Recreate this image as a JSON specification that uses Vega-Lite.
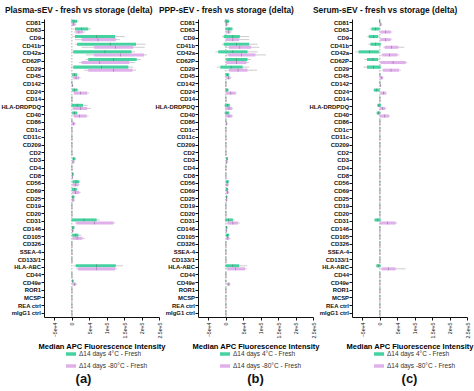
{
  "$schema": "https://vega.github.io/schema/vega-lite/v6.json",
  "padding": {"left": 0, "top": 6, "right": 2, "bottom": 0},
  "config": {
    "font": "Liberation Sans",
    "view": {"stroke": null},
    "title": {"font": "Liberation Sans", "fontSize": 8.4, "fontWeight": "bold", "color": "#111", "offset": 4, "anchor": "start", "dx": 4},
    "axis": {"domainColor": "#111", "tickColor": "#111", "labelColor": "#111", "grid": false},
    "axisY": {"labelFont": "Liberation Sans", "labelFontSize": 5.9, "labelFontWeight": "bold", "tickSize": 3, "labelPadding": 0.5, "title": null},
    "axisX": {"labelOverlap": false, "labelFlush": false, "labelBound": false, "labelAngle": 270, "labelFontSize": 5.2, "tickSize": 3, "labelPadding": 2, "titleFontSize": 7.5, "titleFontWeight": "bold", "titlePadding": 4},
    "legend": {"labelFont": "Liberation Sans", "labelFontSize": 6.5, "labelColor": "#333"}
  },
  "spacing": 1,
  "resolve": {"legend": {"color": "independent"}},
  "datasets": {
    "a": [
      {"m":"CD81","c":"4°C","lo":-3000,"q1":-1000,"md":6000,"q3":15000,"hi":19000},
      {"m":"CD81","c":"-80°C","lo":-1000,"q1":0,"md":4000,"q3":10000,"hi":13000},
      {"m":"CD63","c":"4°C","lo":4000,"q1":9000,"md":28000,"q3":47000,"hi":55000},
      {"m":"CD63","c":"-80°C","lo":6000,"q1":11000,"md":20000,"q3":32000,"hi":38000},
      {"m":"CD9","c":"4°C","lo":2000,"q1":9000,"md":70000,"q3":124000,"hi":152000},
      {"m":"CD9","c":"-80°C","lo":9000,"q1":28000,"md":75000,"q3":126000,"hi":138000},
      {"m":"CD41b","c":"4°C","lo":9000,"q1":15000,"md":110000,"q3":184000,"hi":212000},
      {"m":"CD41b","c":"-80°C","lo":28000,"q1":64000,"md":125000,"q3":176000,"hi":209000},
      {"m":"CD42a","c":"4°C","lo":-1000,"q1":4000,"md":95000,"q3":171000,"hi":181000},
      {"m":"CD42a","c":"-80°C","lo":40000,"q1":63000,"md":140000,"q3":207000,"hi":215000},
      {"m":"CD62P","c":"4°C","lo":40000,"q1":47000,"md":120000,"q3":186000,"hi":198000},
      {"m":"CD62P","c":"-80°C","lo":20000,"q1":28000,"md":80000,"q3":165000,"hi":182000},
      {"m":"CD29","c":"4°C","lo":-3000,"q1":4000,"md":85000,"q3":162000,"hi":176000},
      {"m":"CD29","c":"-80°C","lo":35000,"q1":47000,"md":120000,"q3":174000,"hi":184000},
      {"m":"CD45","c":"4°C","lo":-1000,"q1":1000,"md":8000,"q3":15000,"hi":18000},
      {"m":"CD45","c":"-80°C","lo":1000,"q1":4000,"md":12000,"q3":21000,"hi":25000},
      {"m":"CD142","c":"4°C","lo":-1500,"q1":-400,"md":200,"q3":800,"hi":1800},
      {"m":"CD142","c":"-80°C","lo":-1000,"q1":0,"md":1500,"q3":3000,"hi":4500},
      {"m":"CD24","c":"4°C","lo":-1000,"q1":1000,"md":8000,"q3":16000,"hi":20000},
      {"m":"CD24","c":"-80°C","lo":4000,"q1":6000,"md":25000,"q3":44000,"hi":50000},
      {"m":"CD14","c":"4°C","lo":-1500,"q1":-400,"md":200,"q3":800,"hi":1800},
      {"m":"CD14","c":"-80°C","lo":-1200,"q1":-300,"md":300,"q3":1000,"hi":2000},
      {"m":"HLA-DRDPDQ","c":"4°C","lo":-3000,"q1":-1000,"md":15000,"q3":32000,"hi":45000},
      {"m":"HLA-DRDPDQ","c":"-80°C","lo":1000,"q1":4000,"md":25000,"q3":44000,"hi":55000},
      {"m":"CD40","c":"4°C","lo":-1000,"q1":1000,"md":7000,"q3":15000,"hi":18000},
      {"m":"CD40","c":"-80°C","lo":3000,"q1":6000,"md":22000,"q3":42000,"hi":48000},
      {"m":"CD86","c":"4°C","lo":-1500,"q1":-400,"md":200,"q3":800,"hi":1800},
      {"m":"CD86","c":"-80°C","lo":-1000,"q1":0,"md":4000,"q3":9000,"hi":11000},
      {"m":"CD1c","c":"4°C","lo":-1500,"q1":-400,"md":200,"q3":800,"hi":1800},
      {"m":"CD1c","c":"-80°C","lo":-1200,"q1":-300,"md":300,"q3":1000,"hi":2000},
      {"m":"CD11c","c":"4°C","lo":-1500,"q1":-400,"md":200,"q3":800,"hi":1800},
      {"m":"CD11c","c":"-80°C","lo":-1200,"q1":-300,"md":300,"q3":1000,"hi":2000},
      {"m":"CD209","c":"4°C","lo":-1500,"q1":-400,"md":200,"q3":800,"hi":1800},
      {"m":"CD209","c":"-80°C","lo":-1200,"q1":-300,"md":300,"q3":1000,"hi":2000},
      {"m":"CD2","c":"4°C","lo":-1500,"q1":-400,"md":200,"q3":800,"hi":1800},
      {"m":"CD2","c":"-80°C","lo":-1200,"q1":-300,"md":300,"q3":1000,"hi":2000},
      {"m":"CD3","c":"4°C","lo":0,"q1":2000,"md":5000,"q3":10000,"hi":12000},
      {"m":"CD3","c":"-80°C","lo":-500,"q1":1000,"md":3000,"q3":7000,"hi":9000},
      {"m":"CD4","c":"4°C","lo":-1500,"q1":-400,"md":200,"q3":800,"hi":1800},
      {"m":"CD4","c":"-80°C","lo":-1200,"q1":-300,"md":300,"q3":1000,"hi":2000},
      {"m":"CD8","c":"4°C","lo":-500,"q1":0,"md":2000,"q3":5000,"hi":6000},
      {"m":"CD8","c":"-80°C","lo":-500,"q1":0,"md":1500,"q3":3000,"hi":4000},
      {"m":"CD56","c":"4°C","lo":0,"q1":2000,"md":12000,"q3":21000,"hi":24000},
      {"m":"CD56","c":"-80°C","lo":0,"q1":2000,"md":10000,"q3":19000,"hi":22000},
      {"m":"CD69","c":"4°C","lo":-1000,"q1":0,"md":7000,"q3":14000,"hi":17000},
      {"m":"CD69","c":"-80°C","lo":0,"q1":2000,"md":11000,"q3":21000,"hi":25000},
      {"m":"CD25","c":"4°C","lo":-500,"q1":0,"md":3000,"q3":7000,"hi":9000},
      {"m":"CD25","c":"-80°C","lo":-500,"q1":0,"md":3000,"q3":7000,"hi":9000},
      {"m":"CD19","c":"4°C","lo":-1500,"q1":-400,"md":200,"q3":800,"hi":1800},
      {"m":"CD19","c":"-80°C","lo":-1200,"q1":-300,"md":300,"q3":1000,"hi":2000},
      {"m":"CD20","c":"4°C","lo":-1500,"q1":-400,"md":200,"q3":800,"hi":1800},
      {"m":"CD20","c":"-80°C","lo":-1200,"q1":-300,"md":300,"q3":1000,"hi":2000},
      {"m":"CD31","c":"4°C","lo":-3000,"q1":-1000,"md":35000,"q3":71000,"hi":80000},
      {"m":"CD31","c":"-80°C","lo":9000,"q1":13000,"md":65000,"q3":119000,"hi":124000},
      {"m":"CD146","c":"4°C","lo":-500,"q1":0,"md":3000,"q3":7000,"hi":8000},
      {"m":"CD146","c":"-80°C","lo":-500,"q1":0,"md":2000,"q3":5000,"hi":6000},
      {"m":"CD105","c":"4°C","lo":-1000,"q1":1000,"md":10000,"q3":19000,"hi":27000},
      {"m":"CD105","c":"-80°C","lo":0,"q1":2000,"md":15000,"q3":30000,"hi":37000},
      {"m":"CD326","c":"4°C","lo":-1500,"q1":-400,"md":200,"q3":800,"hi":1800},
      {"m":"CD326","c":"-80°C","lo":-1200,"q1":-300,"md":300,"q3":1000,"hi":2000},
      {"m":"SSEA-4","c":"4°C","lo":-1500,"q1":-400,"md":200,"q3":800,"hi":1800},
      {"m":"SSEA-4","c":"-80°C","lo":-1200,"q1":-300,"md":300,"q3":1000,"hi":2000},
      {"m":"CD133/1","c":"4°C","lo":-1500,"q1":-400,"md":200,"q3":800,"hi":1800},
      {"m":"CD133/1","c":"-80°C","lo":-1200,"q1":-300,"md":300,"q3":1000,"hi":2000},
      {"m":"HLA-ABC","c":"4°C","lo":5000,"q1":11000,"md":71000,"q3":126000,"hi":147000},
      {"m":"HLA-ABC","c":"-80°C","lo":12000,"q1":18000,"md":70000,"q3":124000,"hi":130000},
      {"m":"CD44","c":"4°C","lo":-1500,"q1":-400,"md":200,"q3":800,"hi":1800},
      {"m":"CD44","c":"-80°C","lo":-1200,"q1":-300,"md":300,"q3":1000,"hi":2000},
      {"m":"CD49e","c":"4°C","lo":-500,"q1":0,"md":2000,"q3":5000,"hi":6000},
      {"m":"CD49e","c":"-80°C","lo":0,"q1":2000,"md":7000,"q3":12000,"hi":15000},
      {"m":"ROR1","c":"4°C","lo":-1500,"q1":-400,"md":200,"q3":800,"hi":1800},
      {"m":"ROR1","c":"-80°C","lo":-1200,"q1":-300,"md":300,"q3":1000,"hi":2000},
      {"m":"MCSP","c":"4°C","lo":-1500,"q1":-400,"md":200,"q3":800,"hi":1800},
      {"m":"MCSP","c":"-80°C","lo":-1200,"q1":-300,"md":300,"q3":1000,"hi":2000},
      {"m":"REA ctrl","c":"4°C","lo":-1500,"q1":-400,"md":200,"q3":800,"hi":1800},
      {"m":"REA ctrl","c":"-80°C","lo":-1200,"q1":-300,"md":300,"q3":1000,"hi":2000},
      {"m":"mIgG1 ctrl","c":"4°C","lo":-1500,"q1":-400,"md":200,"q3":800,"hi":1800},
      {"m":"mIgG1 ctrl","c":"-80°C","lo":-1200,"q1":-300,"md":300,"q3":1000,"hi":2000}
    ],
    "b": [
      {"m":"CD81","c":"4°C","lo":-5000,"q1":-3000,"md":3000,"q3":9000,"hi":12000},
      {"m":"CD81","c":"-80°C","lo":-2000,"q1":-1000,"md":2000,"q3":5000,"hi":7000},
      {"m":"CD63","c":"4°C","lo":-3000,"q1":-1000,"md":9000,"q3":18500,"hi":22000},
      {"m":"CD63","c":"-80°C","lo":-1000,"q1":1000,"md":7000,"q3":13000,"hi":16000},
      {"m":"CD9","c":"4°C","lo":-11000,"q1":-6000,"md":20000,"q3":40000,"hi":67000},
      {"m":"CD9","c":"-80°C","lo":-2000,"q1":1000,"md":20000,"q3":38000,"hi":67000},
      {"m":"CD41b","c":"4°C","lo":-11000,"q1":-6000,"md":30000,"q3":67000,"hi":91000},
      {"m":"CD41b","c":"-80°C","lo":-1000,"q1":9000,"md":40000,"q3":72000,"hi":96000},
      {"m":"CD42a","c":"4°C","lo":-30000,"q1":-22000,"md":20000,"q3":62000,"hi":91000},
      {"m":"CD42a","c":"-80°C","lo":0,"q1":7000,"md":45000,"q3":85000,"hi":115000},
      {"m":"CD62P","c":"4°C","lo":-2000,"q1":1000,"md":30000,"q3":62000,"hi":72000},
      {"m":"CD62P","c":"-80°C","lo":-2000,"q1":1000,"md":30000,"q3":59000,"hi":66000},
      {"m":"CD29","c":"4°C","lo":-25000,"q1":-16000,"md":15000,"q3":48000,"hi":67000},
      {"m":"CD29","c":"-80°C","lo":4000,"q1":9000,"md":35000,"q3":62000,"hi":89000},
      {"m":"CD45","c":"4°C","lo":-3000,"q1":-1000,"md":4000,"q3":9000,"hi":11000},
      {"m":"CD45","c":"-80°C","lo":-1000,"q1":1000,"md":7000,"q3":13000,"hi":16000},
      {"m":"CD142","c":"4°C","lo":-1500,"q1":-400,"md":200,"q3":800,"hi":1800},
      {"m":"CD142","c":"-80°C","lo":-1200,"q1":-300,"md":300,"q3":1000,"hi":2000},
      {"m":"CD24","c":"4°C","lo":-3000,"q1":-1000,"md":3000,"q3":7000,"hi":9000},
      {"m":"CD24","c":"-80°C","lo":-1000,"q1":1000,"md":14000,"q3":28000,"hi":31000},
      {"m":"CD14","c":"4°C","lo":-1500,"q1":-400,"md":200,"q3":800,"hi":1800},
      {"m":"CD14","c":"-80°C","lo":-1200,"q1":-300,"md":300,"q3":1000,"hi":2000},
      {"m":"HLA-DRDPDQ","c":"4°C","lo":-4000,"q1":-3000,"md":5000,"q3":11000,"hi":14000},
      {"m":"HLA-DRDPDQ","c":"-80°C","lo":-2000,"q1":-1000,"md":9000,"q3":18000,"hi":21000},
      {"m":"CD40","c":"4°C","lo":-4000,"q1":-3000,"md":3000,"q3":9000,"hi":12000},
      {"m":"CD40","c":"-80°C","lo":-2000,"q1":-1000,"md":9000,"q3":18000,"hi":21000},
      {"m":"CD86","c":"4°C","lo":-1500,"q1":-400,"md":200,"q3":800,"hi":1800},
      {"m":"CD86","c":"-80°C","lo":-500,"q1":0,"md":1500,"q3":4000,"hi":5000},
      {"m":"CD1c","c":"4°C","lo":-1500,"q1":-400,"md":200,"q3":800,"hi":1800},
      {"m":"CD1c","c":"-80°C","lo":-1200,"q1":-300,"md":300,"q3":1000,"hi":2000},
      {"m":"CD11c","c":"4°C","lo":-1500,"q1":-400,"md":200,"q3":800,"hi":1800},
      {"m":"CD11c","c":"-80°C","lo":-1200,"q1":-300,"md":300,"q3":1000,"hi":2000},
      {"m":"CD209","c":"4°C","lo":-1500,"q1":-400,"md":200,"q3":800,"hi":1800},
      {"m":"CD209","c":"-80°C","lo":-1200,"q1":-300,"md":300,"q3":1000,"hi":2000},
      {"m":"CD2","c":"4°C","lo":-1500,"q1":-400,"md":200,"q3":800,"hi":1800},
      {"m":"CD2","c":"-80°C","lo":-1200,"q1":-300,"md":300,"q3":1000,"hi":2000},
      {"m":"CD3","c":"4°C","lo":0,"q1":1000,"md":3000,"q3":6000,"hi":7000},
      {"m":"CD3","c":"-80°C","lo":-500,"q1":0,"md":2000,"q3":5000,"hi":6000},
      {"m":"CD4","c":"4°C","lo":-1500,"q1":-400,"md":200,"q3":800,"hi":1800},
      {"m":"CD4","c":"-80°C","lo":-1200,"q1":-300,"md":300,"q3":1000,"hi":2000},
      {"m":"CD8","c":"4°C","lo":-1500,"q1":-400,"md":200,"q3":800,"hi":1800},
      {"m":"CD8","c":"-80°C","lo":-1200,"q1":-300,"md":300,"q3":1000,"hi":2000},
      {"m":"CD56","c":"4°C","lo":-1000,"q1":0,"md":4000,"q3":8000,"hi":10000},
      {"m":"CD56","c":"-80°C","lo":-1000,"q1":0,"md":3000,"q3":7000,"hi":9000},
      {"m":"CD69","c":"4°C","lo":-1000,"q1":0,"md":3000,"q3":6000,"hi":8000},
      {"m":"CD69","c":"-80°C","lo":0,"q1":1000,"md":4000,"q3":8000,"hi":10000},
      {"m":"CD25","c":"4°C","lo":-1000,"q1":0,"md":2000,"q3":4000,"hi":5000},
      {"m":"CD25","c":"-80°C","lo":-1000,"q1":0,"md":2000,"q3":4000,"hi":5000},
      {"m":"CD19","c":"4°C","lo":-1500,"q1":-400,"md":200,"q3":800,"hi":1800},
      {"m":"CD19","c":"-80°C","lo":-1200,"q1":-300,"md":300,"q3":1000,"hi":2000},
      {"m":"CD20","c":"4°C","lo":-1500,"q1":-400,"md":200,"q3":800,"hi":1800},
      {"m":"CD20","c":"-80°C","lo":-1200,"q1":-300,"md":300,"q3":1000,"hi":2000},
      {"m":"CD31","c":"4°C","lo":-4000,"q1":-2000,"md":8000,"q3":20000,"hi":25000},
      {"m":"CD31","c":"-80°C","lo":2000,"q1":5000,"md":20000,"q3":35000,"hi":40000},
      {"m":"CD146","c":"4°C","lo":-1000,"q1":0,"md":2000,"q3":4000,"hi":5000},
      {"m":"CD146","c":"-80°C","lo":-1000,"q1":0,"md":1500,"q3":3000,"hi":4000},
      {"m":"CD105","c":"4°C","lo":-1000,"q1":0,"md":4000,"q3":9000,"hi":11000},
      {"m":"CD105","c":"-80°C","lo":0,"q1":1000,"md":5000,"q3":10000,"hi":13000},
      {"m":"CD326","c":"4°C","lo":-1500,"q1":-400,"md":200,"q3":800,"hi":1800},
      {"m":"CD326","c":"-80°C","lo":-1200,"q1":-300,"md":300,"q3":1000,"hi":2000},
      {"m":"SSEA-4","c":"4°C","lo":-1500,"q1":-400,"md":200,"q3":800,"hi":1800},
      {"m":"SSEA-4","c":"-80°C","lo":-1200,"q1":-300,"md":300,"q3":1000,"hi":2000},
      {"m":"CD133/1","c":"4°C","lo":-1500,"q1":-400,"md":200,"q3":800,"hi":1800},
      {"m":"CD133/1","c":"-80°C","lo":-1200,"q1":-300,"md":300,"q3":1000,"hi":2000},
      {"m":"HLA-ABC","c":"4°C","lo":-3000,"q1":-1000,"md":20000,"q3":38000,"hi":61000},
      {"m":"HLA-ABC","c":"-80°C","lo":2000,"q1":4000,"md":28000,"q3":55000,"hi":60000},
      {"m":"CD44","c":"4°C","lo":-1500,"q1":-400,"md":200,"q3":800,"hi":1800},
      {"m":"CD44","c":"-80°C","lo":-1200,"q1":-300,"md":300,"q3":1000,"hi":2000},
      {"m":"CD49e","c":"4°C","lo":-1500,"q1":-400,"md":200,"q3":800,"hi":1800},
      {"m":"CD49e","c":"-80°C","lo":1000,"q1":3000,"md":7000,"q3":12000,"hi":14000},
      {"m":"ROR1","c":"4°C","lo":-1500,"q1":-400,"md":200,"q3":800,"hi":1800},
      {"m":"ROR1","c":"-80°C","lo":-1200,"q1":-300,"md":300,"q3":1000,"hi":2000},
      {"m":"MCSP","c":"4°C","lo":-1500,"q1":-400,"md":200,"q3":800,"hi":1800},
      {"m":"MCSP","c":"-80°C","lo":-1200,"q1":-300,"md":300,"q3":1000,"hi":2000},
      {"m":"REA ctrl","c":"4°C","lo":-1500,"q1":-400,"md":200,"q3":800,"hi":1800},
      {"m":"REA ctrl","c":"-80°C","lo":-1200,"q1":-300,"md":300,"q3":1000,"hi":2000},
      {"m":"mIgG1 ctrl","c":"4°C","lo":-1500,"q1":-400,"md":200,"q3":800,"hi":1800},
      {"m":"mIgG1 ctrl","c":"-80°C","lo":-1200,"q1":-300,"md":300,"q3":1000,"hi":2000}
    ],
    "c": [
      {"m":"CD81","c":"4°C","lo":-3000,"q1":-2000,"md":-500,"q3":1000,"hi":2000},
      {"m":"CD81","c":"-80°C","lo":-1000,"q1":0,"md":2000,"q3":5000,"hi":7000},
      {"m":"CD63","c":"4°C","lo":-30000,"q1":-24000,"md":-12000,"q3":-1000,"hi":2000},
      {"m":"CD63","c":"-80°C","lo":0,"q1":2000,"md":16000,"q3":31000,"hi":36000},
      {"m":"CD9","c":"4°C","lo":-36000,"q1":-32000,"md":-18000,"q3":-5000,"hi":-2000},
      {"m":"CD9","c":"-80°C","lo":0,"q1":2000,"md":16000,"q3":31000,"hi":34000},
      {"m":"CD41b","c":"4°C","lo":-33000,"q1":-27000,"md":-12000,"q3":2000,"hi":5000},
      {"m":"CD41b","c":"-80°C","lo":10000,"q1":14000,"md":33000,"q3":53000,"hi":70000},
      {"m":"CD42a","c":"4°C","lo":-70000,"q1":-61000,"md":-30000,"q3":-3000,"hi":0},
      {"m":"CD42a","c":"-80°C","lo":3000,"q1":7000,"md":28000,"q3":50000,"hi":56000},
      {"m":"CD62P","c":"4°C","lo":-45000,"q1":-37000,"md":-20000,"q3":-5000,"hi":-2000},
      {"m":"CD62P","c":"-80°C","lo":0,"q1":2000,"md":38000,"q3":74000,"hi":78000},
      {"m":"CD29","c":"4°C","lo":-47000,"q1":-37000,"md":-18000,"q3":2000,"hi":5000},
      {"m":"CD29","c":"-80°C","lo":5000,"q1":9000,"md":32000,"q3":55000,"hi":60000},
      {"m":"CD45","c":"4°C","lo":-1500,"q1":-500,"md":300,"q3":1000,"hi":2000},
      {"m":"CD45","c":"-80°C","lo":-1000,"q1":0,"md":4000,"q3":9000,"hi":11000},
      {"m":"CD142","c":"4°C","lo":-1500,"q1":-400,"md":200,"q3":800,"hi":1800},
      {"m":"CD142","c":"-80°C","lo":-500,"q1":0,"md":1000,"q3":3000,"hi":4000},
      {"m":"CD24","c":"4°C","lo":-20000,"q1":-17000,"md":-9000,"q3":-1000,"hi":1000},
      {"m":"CD24","c":"-80°C","lo":0,"q1":2000,"md":10000,"q3":18000,"hi":20000},
      {"m":"CD14","c":"4°C","lo":-1500,"q1":-400,"md":200,"q3":800,"hi":1800},
      {"m":"CD14","c":"-80°C","lo":-1200,"q1":-300,"md":300,"q3":1000,"hi":2000},
      {"m":"HLA-DRDPDQ","c":"4°C","lo":-8000,"q1":-7000,"md":-3000,"q3":3000,"hi":5000},
      {"m":"HLA-DRDPDQ","c":"-80°C","lo":-1000,"q1":0,"md":7000,"q3":15000,"hi":19000},
      {"m":"CD40","c":"4°C","lo":-10000,"q1":-9000,"md":-4000,"q3":1000,"hi":3000},
      {"m":"CD40","c":"-80°C","lo":-1000,"q1":0,"md":13000,"q3":26000,"hi":29000},
      {"m":"CD86","c":"4°C","lo":-1500,"q1":-400,"md":200,"q3":800,"hi":1800},
      {"m":"CD86","c":"-80°C","lo":-1200,"q1":-300,"md":300,"q3":1000,"hi":2000},
      {"m":"CD1c","c":"4°C","lo":-1500,"q1":-400,"md":200,"q3":800,"hi":1800},
      {"m":"CD1c","c":"-80°C","lo":-1200,"q1":-300,"md":300,"q3":1000,"hi":2000},
      {"m":"CD11c","c":"4°C","lo":-1500,"q1":-400,"md":200,"q3":800,"hi":1800},
      {"m":"CD11c","c":"-80°C","lo":-1200,"q1":-300,"md":300,"q3":1000,"hi":2000},
      {"m":"CD209","c":"4°C","lo":-1500,"q1":-400,"md":200,"q3":800,"hi":1800},
      {"m":"CD209","c":"-80°C","lo":-1200,"q1":-300,"md":300,"q3":1000,"hi":2000},
      {"m":"CD2","c":"4°C","lo":-1500,"q1":-400,"md":200,"q3":800,"hi":1800},
      {"m":"CD2","c":"-80°C","lo":-1200,"q1":-300,"md":300,"q3":1000,"hi":2000},
      {"m":"CD3","c":"4°C","lo":-1500,"q1":-400,"md":200,"q3":800,"hi":1800},
      {"m":"CD3","c":"-80°C","lo":-1200,"q1":-300,"md":300,"q3":1000,"hi":2000},
      {"m":"CD4","c":"4°C","lo":-1500,"q1":-400,"md":200,"q3":800,"hi":1800},
      {"m":"CD4","c":"-80°C","lo":-1200,"q1":-300,"md":300,"q3":1000,"hi":2000},
      {"m":"CD8","c":"4°C","lo":-1500,"q1":-400,"md":200,"q3":800,"hi":1800},
      {"m":"CD8","c":"-80°C","lo":-1200,"q1":-300,"md":300,"q3":1000,"hi":2000},
      {"m":"CD56","c":"4°C","lo":-1500,"q1":-400,"md":200,"q3":800,"hi":1800},
      {"m":"CD56","c":"-80°C","lo":-1200,"q1":-300,"md":300,"q3":1000,"hi":2000},
      {"m":"CD69","c":"4°C","lo":-1500,"q1":-400,"md":200,"q3":800,"hi":1800},
      {"m":"CD69","c":"-80°C","lo":-1200,"q1":-300,"md":300,"q3":1000,"hi":2000},
      {"m":"CD25","c":"4°C","lo":-1500,"q1":-400,"md":200,"q3":800,"hi":1800},
      {"m":"CD25","c":"-80°C","lo":-1200,"q1":-300,"md":300,"q3":1000,"hi":2000},
      {"m":"CD19","c":"4°C","lo":-1500,"q1":-400,"md":200,"q3":800,"hi":1800},
      {"m":"CD19","c":"-80°C","lo":-1200,"q1":-300,"md":300,"q3":1000,"hi":2000},
      {"m":"CD20","c":"4°C","lo":-1500,"q1":-400,"md":200,"q3":800,"hi":1800},
      {"m":"CD20","c":"-80°C","lo":-1200,"q1":-300,"md":300,"q3":1000,"hi":2000},
      {"m":"CD31","c":"4°C","lo":-17000,"q1":-15000,"md":-6000,"q3":2000,"hi":4000},
      {"m":"CD31","c":"-80°C","lo":-2000,"q1":0,"md":22000,"q3":45000,"hi":50000},
      {"m":"CD146","c":"4°C","lo":-1500,"q1":-400,"md":200,"q3":800,"hi":1800},
      {"m":"CD146","c":"-80°C","lo":-1200,"q1":-300,"md":300,"q3":1000,"hi":2000},
      {"m":"CD105","c":"4°C","lo":-1500,"q1":-400,"md":200,"q3":800,"hi":1800},
      {"m":"CD105","c":"-80°C","lo":-1200,"q1":-300,"md":300,"q3":1000,"hi":2000},
      {"m":"CD326","c":"4°C","lo":-1500,"q1":-400,"md":200,"q3":800,"hi":1800},
      {"m":"CD326","c":"-80°C","lo":-1200,"q1":-300,"md":300,"q3":1000,"hi":2000},
      {"m":"SSEA-4","c":"4°C","lo":-1500,"q1":-400,"md":200,"q3":800,"hi":1800},
      {"m":"SSEA-4","c":"-80°C","lo":-1200,"q1":-300,"md":300,"q3":1000,"hi":2000},
      {"m":"CD133/1","c":"4°C","lo":-1500,"q1":-400,"md":200,"q3":800,"hi":1800},
      {"m":"CD133/1","c":"-80°C","lo":-1200,"q1":-300,"md":300,"q3":1000,"hi":2000},
      {"m":"HLA-ABC","c":"4°C","lo":-12000,"q1":-10000,"md":-4000,"q3":2000,"hi":3000},
      {"m":"HLA-ABC","c":"-80°C","lo":3000,"q1":5000,"md":25000,"q3":45000,"hi":74000},
      {"m":"CD44","c":"4°C","lo":-1500,"q1":-400,"md":200,"q3":800,"hi":1800},
      {"m":"CD44","c":"-80°C","lo":-1200,"q1":-300,"md":300,"q3":1000,"hi":2000},
      {"m":"CD49e","c":"4°C","lo":-1500,"q1":-400,"md":200,"q3":800,"hi":1800},
      {"m":"CD49e","c":"-80°C","lo":-1200,"q1":-300,"md":300,"q3":1000,"hi":2000},
      {"m":"ROR1","c":"4°C","lo":-1500,"q1":-400,"md":200,"q3":800,"hi":1800},
      {"m":"ROR1","c":"-80°C","lo":-1200,"q1":-300,"md":300,"q3":1000,"hi":2000},
      {"m":"MCSP","c":"4°C","lo":-1500,"q1":-400,"md":200,"q3":800,"hi":1800},
      {"m":"MCSP","c":"-80°C","lo":-1200,"q1":-300,"md":300,"q3":1000,"hi":2000},
      {"m":"REA ctrl","c":"4°C","lo":-1500,"q1":-400,"md":200,"q3":800,"hi":1800},
      {"m":"REA ctrl","c":"-80°C","lo":-1200,"q1":-300,"md":300,"q3":1000,"hi":2000},
      {"m":"mIgG1 ctrl","c":"4°C","lo":-1500,"q1":-400,"md":200,"q3":800,"hi":1800},
      {"m":"mIgG1 ctrl","c":"-80°C","lo":-1200,"q1":-300,"md":300,"q3":1000,"hi":2000}
    ]
  },
  "vconcat": [
    {
      "bounds": "flush",
      "spacing": 39,
      "resolve": {"legend": {"color": "independent"}},
      "hconcat": [
        {
          "title": "Plasma-sEV - fresh vs storage (delta)",
          "data": {"name": "a"},
          "width": 115, "height": 298,
          "layer": [
            {"data": {"values": [{}]}, "mark": {"type": "rule", "strokeDash": [1.5, 1.5], "color": "#999", "strokeWidth": 0.8}, "encoding": {"x": {"datum": 0, "type": "quantitative", "scale": {"domain": [-80000, 250000], "nice": false, "zero": false}, "axis": {"title": "Median APC Fluorescence Intensity", "values": [-50000, 0, 50000, 100000, 150000, 200000, 250000], "format": ","}}}},
            {"mark": {"type": "rule", "color": "#aaa", "strokeWidth": 0.6},
             "encoding": {"y": {"field": "m", "type": "nominal", "sort": ["CD81","CD63","CD9","CD41b","CD42a","CD62P","CD29","CD45","CD142","CD24","CD14","HLA-DRDPDQ","CD40","CD86","CD1c","CD11c","CD209","CD2","CD3","CD4","CD8","CD56","CD69","CD25","CD19","CD20","CD31","CD146","CD105","CD326","SSEA-4","CD133/1","HLA-ABC","CD44","CD49e","ROR1","MCSP","REA ctrl","mIgG1 ctrl"], "scale": {"paddingInner": 0.2, "paddingOuter": 0.1}},
                          "yOffset": {"field": "c", "type": "nominal", "sort": ["4°C", "-80°C"]},
                          "x": {"field": "lo", "type": "quantitative", "axis": {"title": "Median APC Fluorescence Intensity", "values": [-50000, 0, 50000, 100000, 150000, 200000, 250000], "format": ","}}, "x2": {"field": "hi"}}},
            {"mark": {"type": "bar", "strokeWidth": 0},
             "encoding": {"y": {"field": "m", "type": "nominal", "sort": ["CD81","CD63","CD9","CD41b","CD42a","CD62P","CD29","CD45","CD142","CD24","CD14","HLA-DRDPDQ","CD40","CD86","CD1c","CD11c","CD209","CD2","CD3","CD4","CD8","CD56","CD69","CD25","CD19","CD20","CD31","CD146","CD105","CD326","SSEA-4","CD133/1","HLA-ABC","CD44","CD49e","ROR1","MCSP","REA ctrl","mIgG1 ctrl"]},
                          "yOffset": {"field": "c", "type": "nominal", "sort": ["4°C", "-80°C"]},
                          "x": {"field": "q1", "type": "quantitative", "axis": {"title": "Median APC Fluorescence Intensity", "values": [-50000, 0, 50000, 100000, 150000, 200000, 250000], "format": ","}},
                          "x2": {"field": "q3"},
                          "color": {"field": "c", "type": "nominal", "sort": ["4°C", "-80°C"], "scale": {"domain": ["4°C", "-80°C"], "range": ["#45d1a0", "#e0b0ea"]}, "legend": {"title": null, "orient": "none", "legendX": 23, "legendY": 331, "direction": "vertical", "symbolType": "M-1.6,-0.55L1.6,-0.55L1.6,0.55L-1.6,0.55Z", "symbolSize": 40, "symbolStrokeWidth": 0.8, "rowPadding": 4, "labelExpr": "'Δ14 days ' + datum.label + ' - Fresh'"}}}},
            {"mark": {"type": "tick", "orient": "vertical", "color": "#555", "thickness": 0.6, "size": 3, "opacity": 0.6},
             "encoding": {"y": {"field": "m", "type": "nominal", "sort": ["CD81","CD63","CD9","CD41b","CD42a","CD62P","CD29","CD45","CD142","CD24","CD14","HLA-DRDPDQ","CD40","CD86","CD1c","CD11c","CD209","CD2","CD3","CD4","CD8","CD56","CD69","CD25","CD19","CD20","CD31","CD146","CD105","CD326","SSEA-4","CD133/1","HLA-ABC","CD44","CD49e","ROR1","MCSP","REA ctrl","mIgG1 ctrl"]},
                          "yOffset": {"field": "c", "type": "nominal", "sort": ["4°C", "-80°C"]},
                          "x": {"field": "md", "type": "quantitative", "axis": {"title": "Median APC Fluorescence Intensity", "values": [-50000, 0, 50000, 100000, 150000, 200000, 250000], "format": ","}}}}
          ]
        },
        {
          "title": "PPP-sEV - fresh vs storage (delta)",
          "data": {"name": "b"},
          "width": 115, "height": 298,
          "layer": [
            {"data": {"values": [{}]}, "mark": {"type": "rule", "strokeDash": [1.5, 1.5], "color": "#999", "strokeWidth": 0.8}, "encoding": {"x": {"datum": 0, "type": "quantitative", "scale": {"domain": [-80000, 250000], "nice": false, "zero": false}, "axis": {"title": "Median APC Fluorescence Intensity", "values": [-50000, 0, 50000, 100000, 150000, 200000, 250000], "format": ","}}}},
            {"mark": {"type": "rule", "color": "#aaa", "strokeWidth": 0.6},
             "encoding": {"y": {"field": "m", "type": "nominal", "sort": ["CD81","CD63","CD9","CD41b","CD42a","CD62P","CD29","CD45","CD142","CD24","CD14","HLA-DRDPDQ","CD40","CD86","CD1c","CD11c","CD209","CD2","CD3","CD4","CD8","CD56","CD69","CD25","CD19","CD20","CD31","CD146","CD105","CD326","SSEA-4","CD133/1","HLA-ABC","CD44","CD49e","ROR1","MCSP","REA ctrl","mIgG1 ctrl"], "scale": {"paddingInner": 0.2, "paddingOuter": 0.1}},
                          "yOffset": {"field": "c", "type": "nominal", "sort": ["4°C", "-80°C"]},
                          "x": {"field": "lo", "type": "quantitative", "axis": {"title": "Median APC Fluorescence Intensity", "values": [-50000, 0, 50000, 100000, 150000, 200000, 250000], "format": ","}}, "x2": {"field": "hi"}}},
            {"mark": {"type": "bar", "strokeWidth": 0},
             "encoding": {"y": {"field": "m", "type": "nominal", "sort": ["CD81","CD63","CD9","CD41b","CD42a","CD62P","CD29","CD45","CD142","CD24","CD14","HLA-DRDPDQ","CD40","CD86","CD1c","CD11c","CD209","CD2","CD3","CD4","CD8","CD56","CD69","CD25","CD19","CD20","CD31","CD146","CD105","CD326","SSEA-4","CD133/1","HLA-ABC","CD44","CD49e","ROR1","MCSP","REA ctrl","mIgG1 ctrl"]},
                          "yOffset": {"field": "c", "type": "nominal", "sort": ["4°C", "-80°C"]},
                          "x": {"field": "q1", "type": "quantitative", "axis": {"title": "Median APC Fluorescence Intensity", "values": [-50000, 0, 50000, 100000, 150000, 200000, 250000], "format": ","}},
                          "x2": {"field": "q3"},
                          "color": {"field": "c", "type": "nominal", "sort": ["4°C", "-80°C"], "scale": {"domain": ["4°C", "-80°C"], "range": ["#45d1a0", "#e0b0ea"]}, "legend": {"title": null, "orient": "none", "legendX": 23, "legendY": 331, "direction": "vertical", "symbolType": "M-1.6,-0.55L1.6,-0.55L1.6,0.55L-1.6,0.55Z", "symbolSize": 40, "symbolStrokeWidth": 0.8, "rowPadding": 4, "labelExpr": "'Δ14 days ' + datum.label + ' - Fresh'"}}}},
            {"mark": {"type": "tick", "orient": "vertical", "color": "#555", "thickness": 0.6, "size": 3, "opacity": 0.6},
             "encoding": {"y": {"field": "m", "type": "nominal", "sort": ["CD81","CD63","CD9","CD41b","CD42a","CD62P","CD29","CD45","CD142","CD24","CD14","HLA-DRDPDQ","CD40","CD86","CD1c","CD11c","CD209","CD2","CD3","CD4","CD8","CD56","CD69","CD25","CD19","CD20","CD31","CD146","CD105","CD326","SSEA-4","CD133/1","HLA-ABC","CD44","CD49e","ROR1","MCSP","REA ctrl","mIgG1 ctrl"]},
                          "yOffset": {"field": "c", "type": "nominal", "sort": ["4°C", "-80°C"]},
                          "x": {"field": "md", "type": "quantitative", "axis": {"title": "Median APC Fluorescence Intensity", "values": [-50000, 0, 50000, 100000, 150000, 200000, 250000], "format": ","}}}}
          ]
        },
        {
          "title": "Serum-sEV - fresh vs storage (delta)",
          "data": {"name": "c"},
          "width": 115, "height": 298,
          "layer": [
            {"data": {"values": [{}]}, "mark": {"type": "rule", "strokeDash": [1.5, 1.5], "color": "#999", "strokeWidth": 0.8}, "encoding": {"x": {"datum": 0, "type": "quantitative", "scale": {"domain": [-80000, 250000], "nice": false, "zero": false}, "axis": {"title": "Median APC Fluorescence Intensity", "values": [-50000, 0, 50000, 100000, 150000, 200000, 250000], "format": ","}}}},
            {"mark": {"type": "rule", "color": "#aaa", "strokeWidth": 0.6},
             "encoding": {"y": {"field": "m", "type": "nominal", "sort": ["CD81","CD63","CD9","CD41b","CD42a","CD62P","CD29","CD45","CD142","CD24","CD14","HLA-DRDPDQ","CD40","CD86","CD1c","CD11c","CD209","CD2","CD3","CD4","CD8","CD56","CD69","CD25","CD19","CD20","CD31","CD146","CD105","CD326","SSEA-4","CD133/1","HLA-ABC","CD44","CD49e","ROR1","MCSP","REA ctrl","mIgG1 ctrl"], "scale": {"paddingInner": 0.2, "paddingOuter": 0.1}},
                          "yOffset": {"field": "c", "type": "nominal", "sort": ["4°C", "-80°C"]},
                          "x": {"field": "lo", "type": "quantitative", "axis": {"title": "Median APC Fluorescence Intensity", "values": [-50000, 0, 50000, 100000, 150000, 200000, 250000], "format": ","}}, "x2": {"field": "hi"}}},
            {"mark": {"type": "bar", "strokeWidth": 0},
             "encoding": {"y": {"field": "m", "type": "nominal", "sort": ["CD81","CD63","CD9","CD41b","CD42a","CD62P","CD29","CD45","CD142","CD24","CD14","HLA-DRDPDQ","CD40","CD86","CD1c","CD11c","CD209","CD2","CD3","CD4","CD8","CD56","CD69","CD25","CD19","CD20","CD31","CD146","CD105","CD326","SSEA-4","CD133/1","HLA-ABC","CD44","CD49e","ROR1","MCSP","REA ctrl","mIgG1 ctrl"]},
                          "yOffset": {"field": "c", "type": "nominal", "sort": ["4°C", "-80°C"]},
                          "x": {"field": "q1", "type": "quantitative", "axis": {"title": "Median APC Fluorescence Intensity", "values": [-50000, 0, 50000, 100000, 150000, 200000, 250000], "format": ","}},
                          "x2": {"field": "q3"},
                          "color": {"field": "c", "type": "nominal", "sort": ["4°C", "-80°C"], "scale": {"domain": ["4°C", "-80°C"], "range": ["#45d1a0", "#e0b0ea"]}, "legend": {"title": null, "orient": "none", "legendX": 23, "legendY": 331, "direction": "vertical", "symbolType": "M-1.6,-0.55L1.6,-0.55L1.6,0.55L-1.6,0.55Z", "symbolSize": 40, "symbolStrokeWidth": 0.8, "rowPadding": 4, "labelExpr": "'Δ14 days ' + datum.label + ' - Fresh'"}}}},
            {"mark": {"type": "tick", "orient": "vertical", "color": "#555", "thickness": 0.6, "size": 3, "opacity": 0.6},
             "encoding": {"y": {"field": "m", "type": "nominal", "sort": ["CD81","CD63","CD9","CD41b","CD42a","CD62P","CD29","CD45","CD142","CD24","CD14","HLA-DRDPDQ","CD40","CD86","CD1c","CD11c","CD209","CD2","CD3","CD4","CD8","CD56","CD69","CD25","CD19","CD20","CD31","CD146","CD105","CD326","SSEA-4","CD133/1","HLA-ABC","CD44","CD49e","ROR1","MCSP","REA ctrl","mIgG1 ctrl"]},
                          "yOffset": {"field": "c", "type": "nominal", "sort": ["4°C", "-80°C"]},
                          "x": {"field": "md", "type": "quantitative", "axis": {"title": "Median APC Fluorescence Intensity", "values": [-50000, 0, 50000, 100000, 150000, 200000, 250000], "format": ","}}}}
          ]
        }
      ]
    },
    {
      "bounds": "flush",
      "spacing": 39,
      "hconcat": [
        {"data": {"values": [{}]}, "width": 115, "height": 16, "mark": {"type": "text", "text": "(a)", "fontSize": 13, "fontWeight": "bold", "font": "Liberation Sans", "color": "#111", "dx": -18}, "encoding": {}},
        {"data": {"values": [{}]}, "width": 115, "height": 16, "mark": {"type": "text", "text": "(b)", "fontSize": 13, "fontWeight": "bold", "font": "Liberation Sans", "color": "#111"}, "encoding": {}},
        {"data": {"values": [{}]}, "width": 115, "height": 16, "mark": {"type": "text", "text": "(c)", "fontSize": 13, "fontWeight": "bold", "font": "Liberation Sans", "color": "#111"}, "encoding": {}}
      ]
    }
  ]
}
